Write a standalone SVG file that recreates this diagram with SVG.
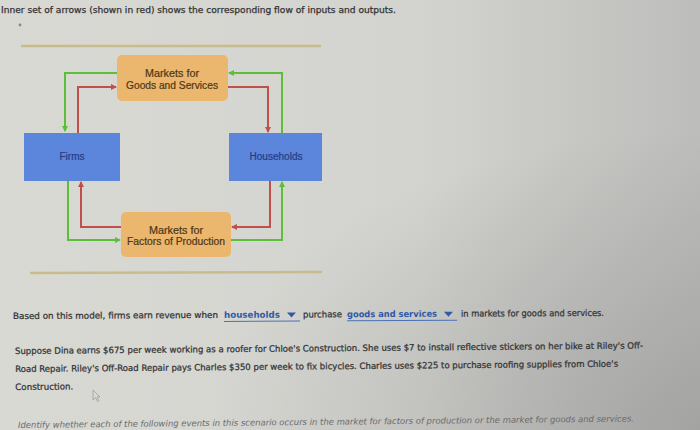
<svg xmlns="http://www.w3.org/2000/svg" width="700" height="430" viewBox="0 0 700 430">
<defs>
<linearGradient id="bg" x1="0" y1="0" x2="1" y2="0">
<stop offset="0" stop-color="#d9d9d4"/>
<stop offset="0.6" stop-color="#d3d3cf"/>
<stop offset="1" stop-color="#bdbdbb"/>
</linearGradient>
<radialGradient id="shade" cx="1" cy="1" r="0.7">
<stop offset="0" stop-color="#8e8e8e" stop-opacity="0.55"/>
<stop offset="1" stop-color="#8e8e8e" stop-opacity="0"/>
</radialGradient>
<marker id="ag" markerWidth="6" markerHeight="6" refX="5" refY="3" orient="auto" markerUnits="userSpaceOnUse">
<path d="M0,0 L6,3 L0,6 z" fill="#5bbf3a"/>
</marker>
<marker id="ar" markerWidth="6" markerHeight="6" refX="5" refY="3" orient="auto" markerUnits="userSpaceOnUse">
<path d="M0,0 L6,3 L0,6 z" fill="#c0504a"/>
</marker>
</defs>
<style>
.body{font-family:"DejaVu Sans","Liberation Sans",sans-serif;font-size:8.8px;fill:#333;stroke:#333;stroke-width:0.25}
.link{font-family:"DejaVu Sans","Liberation Sans",sans-serif;font-size:8.8px;fill:#2f5aa6;font-weight:bold}
.mk{fill:#ebb66d}
.blue{fill:#5b86dc}
.mt{font-family:"Liberation Sans","DejaVu Sans",sans-serif;font-size:10px;fill:#4d3818;stroke:#4d3818;stroke-width:0.2;text-anchor:middle}
.bt{font-family:"Liberation Sans","DejaVu Sans",sans-serif;font-size:10px;fill:#263b84;stroke:#263b84;stroke-width:0.2;text-anchor:middle}
.g{fill:none;stroke:#5bbf3a;stroke-width:2;marker-end:url(#ag)}
.r{fill:none;stroke:#c0504a;stroke-width:2;marker-end:url(#ar)}
.tan{stroke:#c9bc8c;stroke-width:2.5}
</style>
<rect width="700" height="430" fill="url(#bg)"/>
<rect width="700" height="430" fill="url(#shade)"/>

<text class="body" x="1" y="13" textLength="395" lengthAdjust="spacingAndGlyphs">Inner set of arrows (shown in red) shows the corresponding flow of inputs and outputs.</text>
<circle cx="20" cy="25" r="1.4" fill="#888"/>

<line class="tan" x1="21" y1="46" x2="321" y2="46"/>
<line class="tan" x1="30" y1="273" x2="322" y2="272"/>

<g id="connectors">
<path class="g" d="M117,73 H65 V131"/>
<path class="r" d="M78,133 V87 H116"/>
<path class="r" d="M228,87 H268 V132"/>
<path class="g" d="M282,133 V73 H229"/>
<path class="g" d="M68,181 V240 H120"/>
<path class="r" d="M121,227 H81 V182"/>
<path class="r" d="M270,181 V227 H232"/>
<path class="g" d="M231,240 H282 V182"/>
</g>

<g id="goods">
<rect class="mk" x="117" y="55" width="111" height="46" rx="5"/>
<text class="mt" x="172" y="77" textLength="54" lengthAdjust="spacingAndGlyphs">Markets for</text>
<text class="mt" x="172" y="89" textLength="92" lengthAdjust="spacingAndGlyphs">Goods and Services</text>
</g>
<g id="firms">
<rect class="blue" x="24" y="133" width="96" height="48"/>
<text class="bt" x="72" y="160" textLength="25" lengthAdjust="spacingAndGlyphs">Firms</text>
</g>
<g id="households">
<rect class="blue" x="229" y="133" width="93" height="48"/>
<text class="bt" x="276" y="160" textLength="53" lengthAdjust="spacingAndGlyphs">Households</text>
</g>
<g id="factors">
<rect class="mk" x="121" y="212" width="110" height="45" rx="5"/>
<text class="mt" x="176" y="234" textLength="54" lengthAdjust="spacingAndGlyphs">Markets for</text>
<text class="mt" x="176" y="245" textLength="98" lengthAdjust="spacingAndGlyphs">Factors of Production</text>
</g>

<g transform="rotate(-0.3 13 319)">
<text class="body" x="13" y="319" textLength="205" lengthAdjust="spacingAndGlyphs">Based on this model, firms earn revenue when</text>
<text class="link" x="224" y="319" textLength="56" lengthAdjust="spacingAndGlyphs">households</text>
<path d="M287,314 L296,314 L291.5,319 z" fill="#2f5aa6"/>
<line x1="224" y1="322.5" x2="300" y2="322.5" stroke="#4a72b8" stroke-width="1"/>
<text class="body" x="303" y="319" textLength="39" lengthAdjust="spacingAndGlyphs">purchase</text>
<text class="link" x="347" y="319" textLength="90" lengthAdjust="spacingAndGlyphs">goods and services</text>
<path d="M444,314 L453,314 L448.5,319 z" fill="#2f5aa6"/>
<line x1="347" y1="322.5" x2="457" y2="322.5" stroke="#4a72b8" stroke-width="1"/>
<text class="body" x="461" y="319" textLength="143" lengthAdjust="spacingAndGlyphs">in markets for goods and services.</text>
</g>

<g transform="rotate(-0.5 15 354)">
<text class="body" x="15" y="354" textLength="628" lengthAdjust="spacingAndGlyphs">Suppose Dina earns $675 per week working as a roofer for Chloe's Construction. She uses $7 to install reflective stickers on her bike at Riley's Off-</text>
<text class="body" x="15" y="372" textLength="603" lengthAdjust="spacingAndGlyphs">Road Repair. Riley's Off-Road Repair pays Charles $350 per week to fix bicycles. Charles uses $225 to purchase roofing supplies from Chloe's</text>
<text class="body" x="15" y="390" textLength="58" lengthAdjust="spacingAndGlyphs">Construction.</text>
</g>
<path d="M93,390 L93,400 L95.5,397.5 L97.5,401.5 L99,400.8 L97,397 L100,397 z" fill="none" stroke="#9a9a9a" stroke-width="0.7"/>

<g transform="rotate(-0.6 18 428)">
<text x="18" y="428" textLength="616" lengthAdjust="spacingAndGlyphs" style="font-family:'DejaVu Sans','Liberation Sans',sans-serif;font-size:8.6px;font-style:italic;fill:#6a6a6a">Identify whether each of the following events in this scenario occurs in the market for factors of production or the market for goods and services.</text>
</g>
</svg>
